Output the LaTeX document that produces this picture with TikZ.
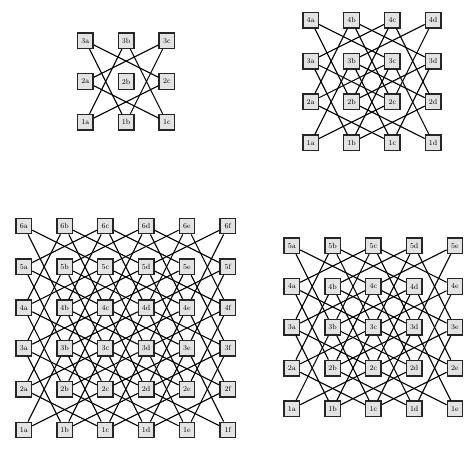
\documentclass[tikz,border=0pt]{standalone}
\tikzset{
  sq/.style={draw=black!85, line width=1.35pt, fill=gray!22, minimum size=15.5pt, inner sep=0pt, font=\fontsize{7.5}{8}\selectfont},
  kedge/.style={line width=1.1pt, black}
}
\newcommand\kgraph[4]{%
  \foreach \r in {1,...,#2}{%
    \foreach \c/\l in {1/a,2/b,3/c,4/d,5/e,6/f}{%
      \ifnum\c>#2\relax\else
        \node[sq] (#1-\r-\c) at ({#3pt+(\c-1)*40.8pt},{#4pt+(\r-1)*40.8pt}) {\r\l};
      \fi
    }%
  }%
  \foreach \r in {1,...,#2}{%
    \foreach \c in {1,...,#2}{%
      \foreach \dr/\dc in {1/2,2/1,1/-2,2/-1}{%
        \pgfmathtruncatemacro\rr{\r+\dr}%
        \pgfmathtruncatemacro\cc{\c+\dc}%
        \ifnum\rr>#2\relax\else
          \ifnum\cc>#2\relax\else
            \ifnum\cc<1\relax\else
              \draw[kedge] (#1-\r-\c) -- (#1-\rr-\cc);
            \fi
          \fi
        \fi
      }%
    }%
  }%
}
\begin{document}
\begin{tikzpicture}
  \useasboundingbox (0,0) rectangle (474pt,450pt);
  \kgraph{g}{3}{85.3}{327.7}
  \kgraph{h}{4}{310.7}{307.3}
  \kgraph{s}{6}{23.8}{20}
  \kgraph{f}{5}{291.8}{41.1}
\end{tikzpicture}
\end{document}
